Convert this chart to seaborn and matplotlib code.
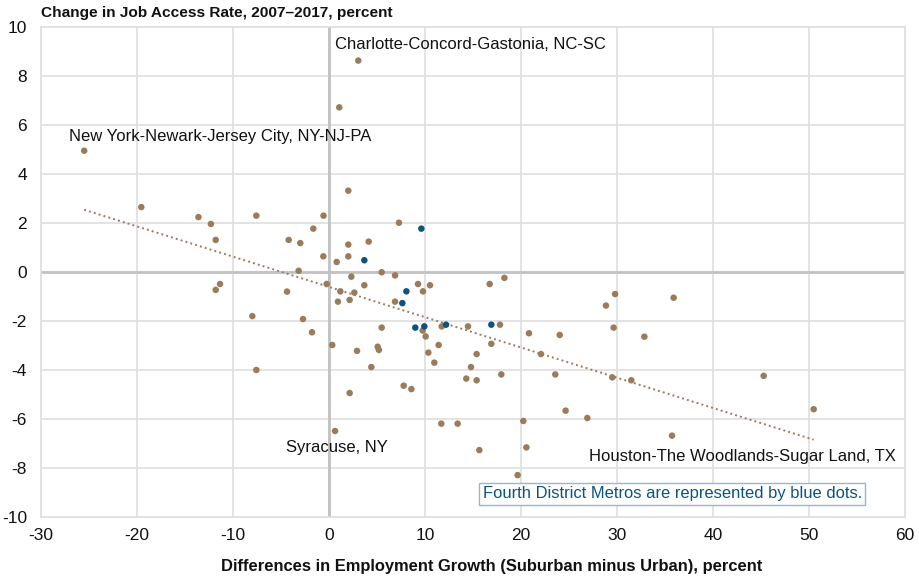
import numpy as np
import pandas as pd
import matplotlib
matplotlib.use("Agg")
import matplotlib.pyplot as plt
import seaborn as sns

# Difference in employment growth (suburban minus urban), percent
other_x = [-25.5, -19.55, -13.6, -12.3, -11.8, -7.57, -4.2, -2.99, -1.63, -0.57,
           -0.59, -3.16, -0.24, -11.35, -11.8, -4.37, -7.99, -2.71, -1.77, -7.57,
           0.34, 0.8, 1.18, 0.93, 3.05, 1.07, 2.01, 7.29, 2.01, 4.13,
           2.01, 5.49, 6.88, 2.33, 3.68, 2.64, 9.27, 9.79, 10.52, 16.74,
           18.27, 29.8, 35.9, 2.15, 6.88, 5.49, 9.76, 10.07, 11.74, 14.48,
           11.42, 5.07, 5.2, 2.92, 17.81, 16.91, 20.83, 24.03, 28.85, 29.65,
           4.41, 2.15, 7.78, 8.58, 0.63, 10.35, 10.97, 11.7, 13.4, 15.66,
           14.3, 14.79, 15.38, 15.38, 32.85, 22.08, 17.95, 23.57, 29.51, 31.49,
           24.65, 26.91, 20.24, 20.56, 19.65, 35.73, 45.28, 50.49]
# Change in job access rate, 2007-2017, percent
other_y = [4.95, 2.65, 2.24, 1.96, 1.31, 2.30, 1.31, 1.18, 1.77, 2.30,
           0.64, 0.05, -0.49, -0.49, -0.73, -0.80, -1.80, -1.92, -2.46, -4.0,
           -2.98, 0.41, -0.79, -1.21, 8.63, 6.72, 3.32, 2.01, 1.12, 1.24,
           0.64, -0.01, -0.14, -0.19, -0.54, -0.84, -0.49, -0.79, -0.54, -0.49,
           -0.24, -0.90, -1.05, -1.14, -1.21, -2.27, -2.39, -2.63, -2.22, -2.22,
           -2.98, -3.05, -3.18, -3.22, -2.15, -2.93, -2.50, -2.57, -1.37, -2.27,
           -3.88, -4.94, -4.64, -4.78, -6.49, -3.29, -3.70, -6.19, -6.19, -7.27,
           -4.35, -3.88, -4.42, -3.35, -2.64, -3.35, -4.18, -4.18, -4.3, -4.42,
           -5.66, -5.96, -6.08, -7.16, -8.29, -6.68, -4.24, -5.6]

# Fourth District metros (blue dots)
fourth_x = [9.62, 3.68, 8.06, 7.64, 8.99, 9.93, 12.19, 16.91]
fourth_y = [1.77, 0.48, -0.79, -1.27, -2.27, -2.22, -2.15, -2.15]

labels = ["Charlotte-Concord-Gastonia, NC-SC", "New York-Newark-Jersey City, NY-NJ-PA",
          "Syracuse, NY", "Houston-The Woodlands-Sugar Land, TX"]
label_x = [0.6, -27.1, -4.5, 27.1]
label_y = [9.27, 5.55, -7.18, -7.55]

xticks = list(range(-30, 61, 10))
yticks = list(range(-10, 11, 2))

brown = "#9a7c5c"
blue = "#0c5380"

df = pd.DataFrame({
    "x": other_x + fourth_x,
    "y": other_y + fourth_y,
    "group": ["Other"] * len(other_x) + ["Fourth District"] * len(fourth_x),
})

sns.set_theme(style="whitegrid")
plt.rcParams["font.family"] = ["Liberation Sans", "DejaVu Sans"]
plt.rcParams["axes.unicode_minus"] = False

fig = plt.figure(figsize=(9.19, 5.83), dpi=100)
ax = fig.add_axes([41 / 919, 66 / 583, 864 / 919, 490 / 583])

# Trend line through all metros
sns.regplot(data=df, x="x", y="y", scatter=False, ci=None, ax=ax,
            line_kws=dict(color=brown, lw=1.4, ls=(0, (1, 1.6))))

sns.scatterplot(data=df, x="x", y="y", hue="group",
                palette={"Other": brown, "Fourth District": blue},
                s=22, linewidth=0, legend=False, ax=ax, zorder=3)

ax.set_xlim(-30, 60)
ax.set_ylim(-10, 10)
ax.set_xticks(xticks)
ax.set_yticks(yticks)
ax.grid(True, color="#e0e0e0", lw=1.3)
ax.axhline(0, color="#c2c2c2", lw=2, zorder=1)
ax.axvline(0, color="#c2c2c2", lw=2, zorder=1)
for sp in ax.spines.values():
    sp.set_color("#e0e0e0")
    sp.set_linewidth(1.3)
ax.tick_params(axis="both", length=0, labelsize=12.5, colors="#111111")
ax.tick_params(axis="x", pad=8)
ax.tick_params(axis="y", pad=10)

ax.set_title("Change in Job Access Rate, 2007\u20132017, percent", loc="left",
             fontsize=11.1, fontweight="bold", pad=7, color="#111111")
ax.set_xlabel("Differences in Employment Growth (Suburban minus Urban), percent",
              fontsize=11.9, fontweight="bold", color="#111111")
ax.xaxis.set_label_coords(0.521, -0.086)
ax.set_ylabel("")

for t, lx, ly in zip(labels, label_x, label_y):
    ax.text(lx, ly, t, fontsize=12, va="center", ha="left", color="#111111")

ax.text(16.0, -9.06, "Fourth District Metros are represented by blue dots.",
        fontsize=11.9, color=blue, va="center", ha="left",
        bbox=dict(boxstyle="square,pad=0.2", fc="white", ec="#9bb6c9", lw=1))

fig.savefig("out.png", dpi=100)
